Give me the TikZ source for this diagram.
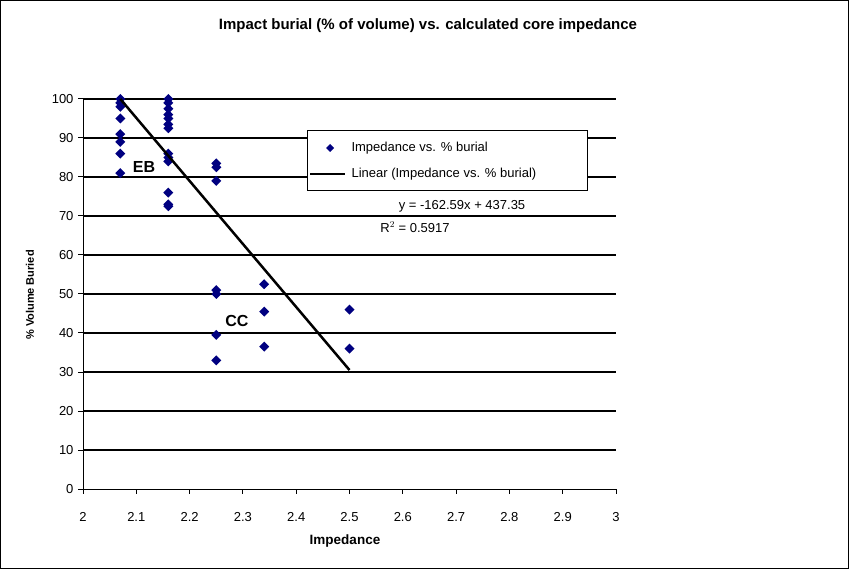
\documentclass[tikz,border=0pt]{standalone}
\usepackage{fontspec}
\setmainfont{Liberation Sans}
\begin{document}
\begin{tikzpicture}[x=1pt,y=-1pt,
  grid/.style={black,line width=1.2pt},
  pt/.style={fill={rgb,255:red,0;green,0;blue,128}},
  tick/.style={font=\fontsize{13}{15}\selectfont},
  ttl/.style={font=\bfseries\fontsize{11}{13}\selectfont}]
\draw[line width=1pt] (0.5,0.5) rectangle (848.5,568.5);
\useasboundingbox (0,0) rectangle (849,569);
\def\X#1{83+533*(#1-2)}
\def\Y#1{489-3.9*#1}
\foreach \v in {10,20,...,100}{
  \draw[grid] (83,{\Y{\v}}) -- (616,{\Y{\v}});
  \draw[line width=1pt] (78,{\Y{\v}}) -- (83,{\Y{\v}});
}
\foreach \v in {0,10,...,100}{\node[tick,anchor=east] (y\v) at (77,{\Y{\v}}) {\v};}
\draw[line width=1pt] (78,489) -- (616,489);
\draw[line width=1pt] (83,99) -- (83,489);
\foreach \t/\l in {0/2,1/2.1,2/2.2,3/2.3,4/2.4,5/2.5,6/2.6,7/2.7,8/2.8,9/2.9,10/3}{
  \draw[line width=1pt] ({83+53.3*\t},489) -- ({83+53.3*\t},494);
  \node[tick] (x\t) at ({83+53.3*\t},517) {\l};
}
\foreach \x/\v in {2.07/100,2.07/99,2.07/98,2.07/95,2.07/91,2.07/89,2.07/86,2.07/81,
 2.16/100,2.16/99,2.16/97.5,2.16/96,2.16/95,2.16/93.5,2.16/92.5,2.16/86,2.16/85,2.16/84,2.16/76,2.16/73,2.16/72.5,
 2.25/83.5,2.25/82.5,2.25/79,2.25/51,2.25/50,2.25/39.5,2.25/33,
 2.34/52.5,2.34/45.5,2.34/36.5,2.5/46,2.5/36}{
  \fill[pt] ({\X{\x}},{\Y{\v}}) ++(0,-5) -- ++(5,5) -- ++(-5,5) -- ++(-5,-5) -- cycle;
}
\coordinate (l1) at ({\X{2.07}},{\Y{100}});
\coordinate (l2) at ({\X{2.5}},{\Y{30.5}});
\draw[line width=2.5pt] (l1) -- (l2);
\node[font=\bfseries\fontsize{15}{17}\selectfont] (title) at (428,26) {Impact burial (\% of volume) vs. calculated core impedance};
\node[ttl,rotate=90] (yl) at (30,295) {\% Volume Buried};
\node[font=\bfseries\fontsize{13.5}{15}\selectfont] (xl) at (345,541) {Impedance};
\node[font=\bfseries\fontsize{16}{18}\selectfont] (eb) at (144,167) {EB};
\node[font=\bfseries\fontsize{16}{18}\selectfont] (cc) at (237,321) {CC};
\node[draw,fill=white,line width=0.8pt,minimum width=280,minimum height=60,anchor=north west] (leg) at (307,130) {};
\fill[pt] (330,148) ++(0,-4) -- ++(4,4) -- ++(-4,4) -- ++(-4,-4) -- cycle;
\node[tick,anchor=west] (lt1) at (348,148) {Impedance vs. \% burial};
\draw[line width=2pt] (310,174) -- (345,174);
\node[tick,anchor=west] (lt2) at (348,174) {Linear (Impedance vs. \% burial)};
\node[tick] (eq) at (462,206) {y = -162.59x + 437.35};
\node[tick] (r2) at (415,227) {R$^{2}$ = 0.5917};
\end{tikzpicture}
\end{document}
